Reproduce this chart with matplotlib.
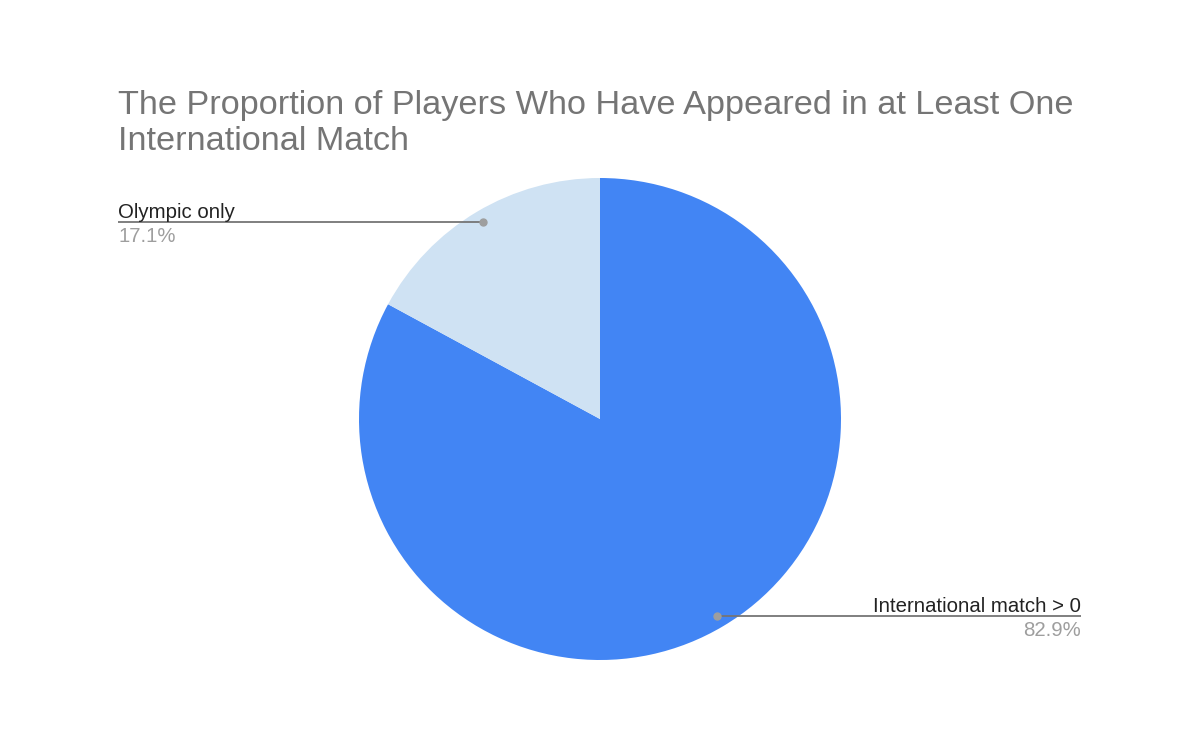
import numpy as np
import matplotlib.pyplot as plt

# chart data
title_lines = ["The Proportion of Players Who Have Appeared in at Least One",
               "International Match"]
labels = ["International match > 0", "Olympic only"]
shares = [82.9, 17.1]
colors = ["#4285f4", "#cfe2f3"]

W, H = 1200, 750
plt.rcParams['font.family'] = ['Liberation Sans', 'DejaVu Sans']

fig = plt.figure(figsize=(12, 7.5), dpi=100)
ax = fig.add_axes([0, 0, 1, 1])

cx, cy, R = 600, H - 419, 241
wedges, _ = ax.pie(shares, colors=colors, startangle=90, counterclock=False,
                   center=(cx, cy), radius=R, frame=True,
                   wedgeprops=dict(linewidth=0))
ax.set_xlim(0, W)
ax.set_ylim(0, H)
ax.set_aspect('equal')
ax.axis('off')

# title, two lines
for i, line in enumerate(title_lines):
    fig.text(118 / W, 1 - (114 + 36 * i) / H, line, fontsize=24.7,
             color="#757575", ha='left', va='baseline')

# leader lines from wedge middle angle
for w, lab, val in zip(wedges, labels, shares):
    mid = np.deg2rad((w.theta1 + w.theta2) / 2)
    dx, dy = cx + 0.95 * R * np.cos(mid), cy + 0.95 * R * np.sin(mid)
    if np.cos(mid) < 0:
        x0, x1, ha = 118, dx, 'left'
        tx = 118
    else:
        x0, x1, ha = dx, 1081, 'right'
        tx = 1081
    ax.plot([x0, x1], [dy, dy], color="#757575", lw=1.3, solid_capstyle='butt')
    ax.plot([dx], [dy], 'o', color="#9e9e9e", ms=5)
    ax.text(tx, dy + 4, lab, fontsize=14.7, color="#222222", ha=ha, va='baseline')
    ax.text(tx, dy - 20, f"{val}%", fontsize=14.7, color="#9e9e9e", ha=ha, va='baseline')

fig.savefig("out.png", dpi=100, facecolor="white")
